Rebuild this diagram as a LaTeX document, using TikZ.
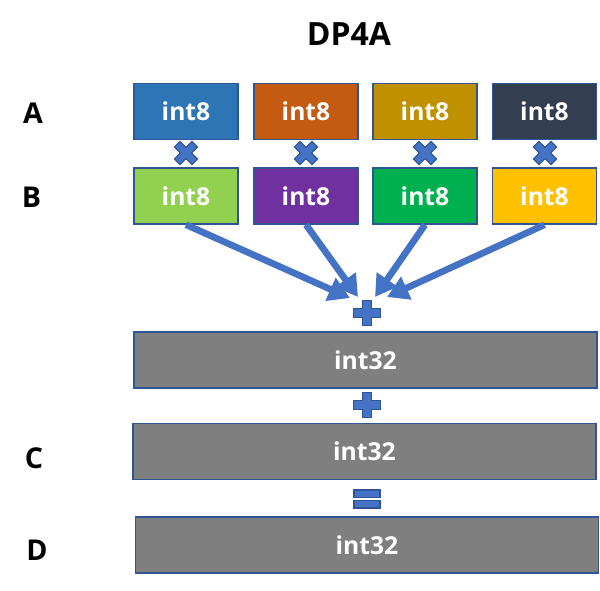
\documentclass[tikz,border=0pt]{standalone}
\usepackage{fontspec}
\setmainfont{Open Sans}
\usetikzlibrary{arrows.meta}
\definecolor{cA1}{HTML}{2E75B6}
\definecolor{cA2}{HTML}{C55A11}
\definecolor{cA3}{HTML}{BF9000}
\definecolor{cA4}{HTML}{333F50}
\definecolor{cB1}{HTML}{92D050}
\definecolor{cB2}{HTML}{7030A0}
\definecolor{cB3}{HTML}{00B050}
\definecolor{cB4}{HTML}{FFC000}
\definecolor{gbox}{HTML}{7F7F7F}
\definecolor{edge}{HTML}{2F5597}
\definecolor{sym}{HTML}{4472C4}
\begin{document}
\begin{tikzpicture}[x=0.75pt,y=-0.75pt,
  small/.style={draw=edge,line width=1.1pt,minimum width=78pt,minimum height=42pt,inner sep=0pt,
    text=white,font=\fontsize{18.5}{20}\selectfont\bfseries},
  big/.style={small,minimum width=347pt,fill=gbox},
  lbl/.style={font=\fontsize{21.5}{22}\selectfont\bfseries,inner sep=0pt},
  symb/.style={fill=sym,draw=edge,line width=0.8pt},
  arr/.style={draw=sym,line width=5pt,-{Triangle[length=16pt,width=18pt]}}]
\useasboundingbox (0,0) rectangle (600,591);
\node[font=\fontsize{24}{26}\selectfont\bfseries] (title) at (349,34) {DP4A};
\node[lbl] (la) at (33,113) {A};
\node[lbl] (lb) at (31.5,197.5) {B};
\node[lbl] (lc) at (34,458) {C};
\node[lbl] (ld) at (37,550) {D};
\node[small,fill=cA1] (a1) at (186,111.5) {int8};
\node[small,fill=cA2] (a2) at (306,111.5) {int8};
\node[small,fill=cA3] (a3) at (425,111.5) {int8};
\node[small,fill=cA4] (a4) at (544.5,111.5) {int8};
\node[small,fill=cB1] (b1) at (186,196) {int8};
\node[small,fill=cB2] (b2) at (306,196) {int8};
\node[small,fill=cB3] (b3) at (425,196) {int8};
\node[small,fill=cB4] (b4) at (544.5,196) {int8};
\node[big] (s1) at (365.5,360) {int32};
\node[big] (sc) at (364.5,451.5) {int32};
\node[big] (sd) at (367,545) {int32};
% multiply signs
\foreach \cx in {186,306,425,545}{
  \draw[symb,rotate around={45:(\cx,153)}] (\cx-4,153-12.5) -- (\cx+4,153-12.5) -- (\cx+4,153-4) -- (\cx+12.5,153-4) -- (\cx+12.5,153+4) -- (\cx+4,153+4) -- (\cx+4,153+12.5) -- (\cx-4,153+12.5) -- (\cx-4,153+4) -- (\cx-12.5,153+4) -- (\cx-12.5,153-4) -- (\cx-4,153-4) -- cycle;
}
% plus signs
\foreach \cy in {313,405}{
  \draw[symb] (367-4.5,\cy-12.5) -- (367+4.5,\cy-12.5) -- (367+4.5,\cy-4.5) -- (367+13.5,\cy-4.5) -- (367+13.5,\cy+4.5) -- (367+4.5,\cy+4.5) -- (367+4.5,\cy+12.5) -- (367-4.5,\cy+12.5) -- (367-4.5,\cy+4.5) -- (367-13.5,\cy+4.5) -- (367-13.5,\cy-4.5) -- (367-4.5,\cy-4.5) -- cycle;
}
% equals
\draw[symb] (354,490) rectangle (380,497.5);
\draw[symb] (354,500.5) rectangle (380,508);
% arrows
\coordinate (t1) at (350,298);
\coordinate (t2) at (358,297);
\coordinate (t3) at (375,297);
\coordinate (t4) at (387,297);
\draw[arr] (b1.south) -- (t1);
\draw[arr] (b2.south) -- (t2);
\draw[arr] (b3.south) -- (t3);
\draw[arr] (b4.south) -- (t4);
\end{tikzpicture}
\end{document}
